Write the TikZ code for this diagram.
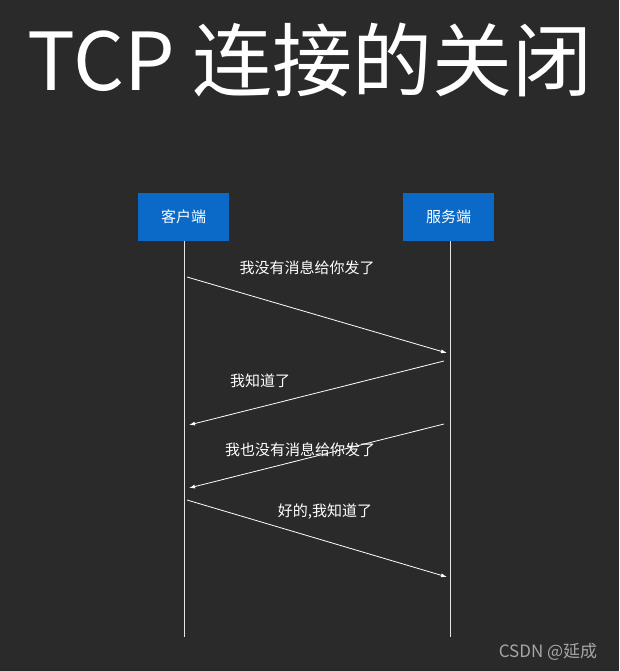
\documentclass[tikz,border=0pt]{standalone}
\usepackage{fontspec}
\setmainfont{Noto Sans CJK SC}
\usetikzlibrary{arrows.meta}
\definecolor{bg}{HTML}{2A2A2A}
\definecolor{boxblue}{HTML}{0B69C7}
\tikzset{
 px/.style={x=1pt,y=-1pt},
 actor/.style={fill=boxblue,minimum width=91pt,minimum height=48pt,inner sep=0,text=white,font=\fontsize{15}{17}\selectfont},
 life/.style={draw=white!90!black,line width=0.8pt},
 msg/.style={draw=white,line width=0.8pt,-{Latex[length=6pt,width=4pt]}},
 lbl/.style={text=white,font=\fontsize{15}{17}\selectfont,inner sep=0}
}
\begin{document}
\begin{tikzpicture}[px]
\fill[bg] (0,0) rectangle (619,671);
\useasboundingbox (0,0) rectangle (619,671);
\node[text=white,font=\fontsize{80}{86}\selectfont] (title) at (310,60) {TCP 连接的关闭};
\node[actor] (c) at (183.5,217) {客户端};
\node[actor] (s) at (448.5,217) {服务端};
\coordinate (cb) at (184,637);
\coordinate (sb) at (450,637);
\draw[life] (184,241) -- (cb);
\draw[life] (450,241) -- (sb);
\coordinate (a1) at (187,277); \coordinate (b1) at (447,353);
\coordinate (a2) at (444,361); \coordinate (b2) at (189,425);
\coordinate (a3) at (444,424); \coordinate (b3) at (189,488);
\coordinate (a4) at (187,500); \coordinate (b4) at (447,577);
\draw[msg] (a1) -- (b1);
\draw[msg] (a2) -- (b2);
\draw[msg] (a3) -- (b3);
\draw[msg] (a4) -- (b4);
\node[lbl] (l1) at (307,268) {我没有消息给你发了};
\node[lbl] (l2) at (260,381) {我知道了};
\node[lbl] (l3) at (300,450) {我也没有消息给你发了};
\node[lbl] (l4) at (325,512) {好的,我知道了};
\node[text=gray!70,font=\fontsize{17}{19}\selectfont,inner sep=0] (wm) at (548,652) {CSDN @延成};
\end{tikzpicture}
\end{document}
